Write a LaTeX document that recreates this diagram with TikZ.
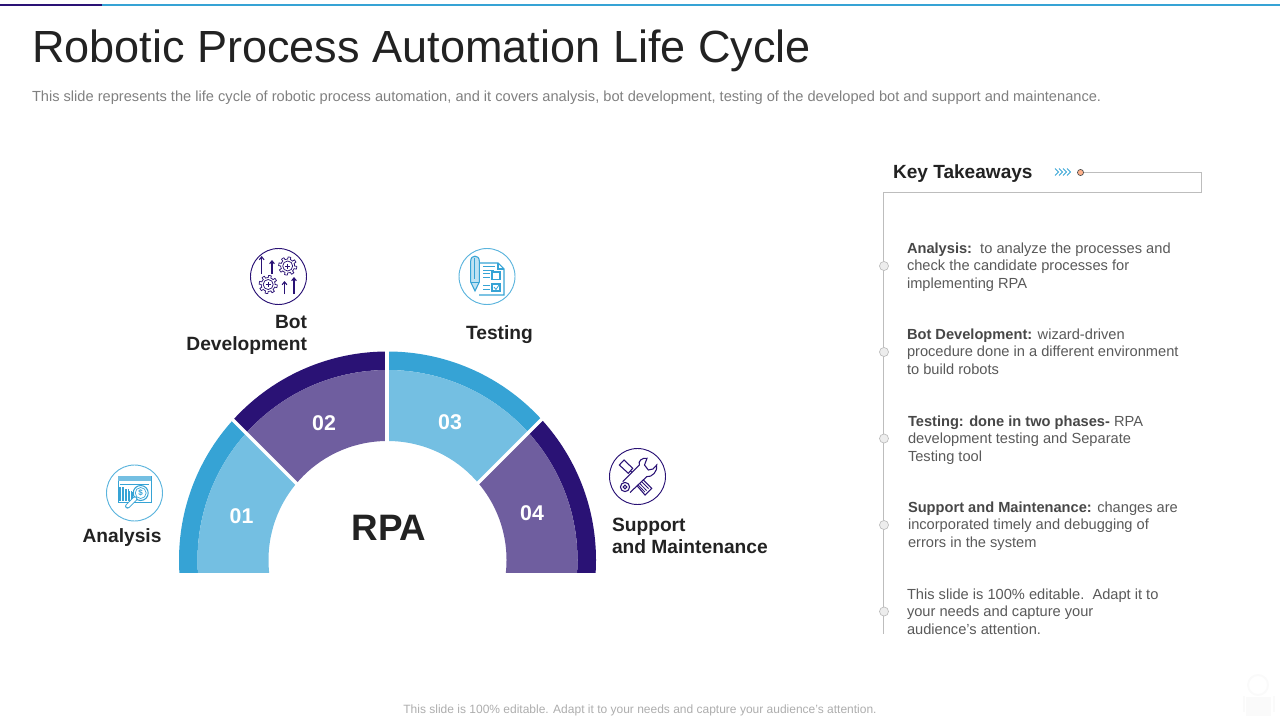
\documentclass[tikz,border=0pt]{standalone}
\usepackage{fontspec}
\setmainfont{Liberation Sans}
\usetikzlibrary{arrows.meta}
\definecolor{cDark}{HTML}{2A1275}
\definecolor{cPurple}{HTML}{6F5E9F}
\definecolor{cBlue}{HTML}{36A3D5}
\definecolor{cLight}{HTML}{74BFE2}
\definecolor{cInk}{HTML}{222222}
\definecolor{cBody}{HTML}{595959}
\definecolor{cBold}{HTML}{474747}
\definecolor{cRule}{HTML}{BDBDBD}
\tikzset{
  every node/.style={inner sep=0pt,outer sep=0pt},
  heading/.style={font=\fontsize{14.4}{16.5}\selectfont\bfseries,text=cInk,align=left},
  bodytext/.style={font=\fontsize{10.98}{13.1}\selectfont,text=cBody,align=left,anchor=west},
  secnum/.style={font=\fontsize{16}{18}\selectfont\bfseries,text=white},
  tick/.style={circle,draw=cRule,fill=black!7,line width=0.5pt,minimum size=6.8pt},
  iconring/.style={line width=0.7pt,fill=white},
  rulel/.style={draw=cRule,line width=0.75pt},
}
\newcommand{\annulus}[3]{\fill[#1,even odd rule] (387.5,560) circle[radius=#2] (387.5,560) circle[radius=#3];}
\newcommand{\sector}[3]{\begin{scope}\clip #1;\annulus{#2}{208.5}{190}\annulus{#3}{190}{119}\end{scope}}
\newcommand{\gearicon}[3]{%
  \draw[#3,line width=0.55pt,shift={(#1,#2)}] plot[domain=0:360,samples=145] (\x:{8+1.1*(sin(8*\x)>0?1:-1)}) -- cycle;
  \draw[#3,line width=0.55pt] (#1,#2) circle[radius=5];
  \draw[#3,line width=0.6pt] (#1-2.5,#2) -- (#1+2.5,#2) (#1,#2-2.5) -- (#1,#2+2.5);
}
\newcommand{\uparr}[4]{\draw[#4,line width=0.8pt,-{Straight Barb[length=2.2pt,width=3.6pt]}] (#1,#3) -- (#1,#2);}
\begin{document}
\begin{tikzpicture}[x=0.75pt,y=-0.75pt]
\useasboundingbox (0,0) rectangle (1280,720);
% top rules
\fill[cDark] (0,4) rectangle (102,6);
\fill[cBlue] (102,4) rectangle (1280,6);
% title
\node[anchor=west,font=\fontsize{33.8}{40}\selectfont,text=cInk] (title) at (32,51) {Robotic Process Automation Life Cycle};
\node[anchor=west,font=\fontsize{10.97}{14}\selectfont,text=black!50] (sub) at (32,97.5) {This slide represents the life cycle of robotic process automation, and it covers analysis, bot development, testing of the developed bot and support and maintenance.};
% gauge
\begin{scope}
\clip (0,200) rectangle (800,572.8);
\sector{(388,575) -- (88,275) -- (0,275) -- (0,575) -- cycle}{cBlue}{cLight}
\sector{(388,575) -- (88,275) -- (386,275) -- (386,575) -- cycle}{cDark}{cPurple}
\sector{(388,575) -- (688,275) -- (388,275) -- (388,575) -- cycle}{cBlue}{cLight}
\sector{(388,575) -- (688,275) -- (800,275) -- (800,575) -- cycle}{cDark}{cPurple}
\draw[white,line width=2.6pt] (386.9,340) -- (386.9,450);
\draw[white,line width=2.6pt] (230,417) -- (298,485);
\draw[white,line width=2.6pt] (544,417) -- (476,485);
\end{scope}
\node[secnum] (n1) at (241.5,516) {01};
\node[secnum] (n2) at (324,423) {02};
\node[secnum] (n3) at (450,422) {03};
\node[secnum] (n4) at (532,513) {04};
\node[font=\fontsize{27.6}{30}\selectfont\bfseries,text=cInk] (rpa) at (389,528) {RPA};
% labels
\node[heading,anchor=east,align=right] (lab2) at (307,335) {Bot\\Development};
\node[heading] (lab3) at (499.5,335) {Testing};
\node[heading,anchor=west] (lab4) at (612,536) {Support\\and Maintenance};
\node[heading] (lab1) at (122,537.5) {Analysis};
% icon: analysis
\draw[cLight!60!cBlue,iconring] (134.5,493) circle[radius=28];
\begin{scope}[cBlue,line width=0.6pt]
\draw (118,476) rectangle (151,502);
\fill[cLight] (118,476) rectangle (151,481);
\draw (120,484) -- (149,484);
\foreach \bx/\by in {119/487,120.5/487,122/487,123.5/487,125/489,126.5/489,128/489,129.5/491,131/491,132.5/492,134/495,135.5/497}{\draw[line width=0.7pt] (\bx,\by) -- (\bx,501);}
\draw[fill=white,line width=0.8pt] (140.7,493) circle[radius=7.5];
\draw[line width=0.5pt] (140.7,493) circle[radius=5.5];
\draw[line width=3.6pt,line cap=round] (135,498.7) -- (127.5,506.2);
\draw[white,line width=2.2pt,line cap=round] (135,498.7) -- (127.5,506.2);
\node[font=\fontsize{6}{6}\selectfont\bfseries,text=cBlue] (dollar) at (140.7,493) {\$};
\end{scope}
% icon: bot development
\draw[cDark,iconring] (278.5,276.5) circle[radius=28];
\uparr{261.7}{256}{274}{cDark}
\uparr{272}{260}{274}{cDark}
\uparr{284.5}{281}{294}{cDark}
\uparr{294}{277}{294}{cDark}
\gearicon{287.7}{266}{cDark}
\gearicon{268.2}{284.5}{cDark}
% icon: testing
\draw[cLight!60!cBlue,iconring] (487,276.5) circle[radius=28];
\begin{scope}[cBlue,line width=0.8pt]
\draw (479,263) -- (498,263) -- (504,269) -- (504,295) -- (479,295);
\draw (498,263) -- (498,269) -- (504,269);
\draw[fill=cLight!45,line width=0.8pt] (470.7,261) .. controls (470.7,254.5) and (479.3,254.5) .. (479.3,261) -- (479.3,282) -- (475,291) -- (470.7,282) -- cycle;
\draw[line width=0.6pt] (470.7,282) -- (479.3,282) (474,258) -- (474,279);
\draw[line width=0.7pt] (483,266) -- (495,266) (483,270) -- (494,270);
\draw[line width=0.7pt] (483,273.5) -- (490,273.5) (483,277) -- (490,277);
\draw (492,272) rectangle (500,279.5);
\draw[line width=0.7pt] (483,285) -- (490,285) (483,289) -- (490,289);
\draw (492,284) rectangle (500,291);
\draw[line width=0.6pt] (494,287) -- (496,289.5) -- (499,285);
\end{scope}
% icon: support
\draw[cDark,iconring] (637.5,476.5) circle[radius=28];
\begin{scope}[cDark,line width=0.8pt]
\draw (619.3,465) -- (624,460) -- (632.7,468.3) -- (628.3,473.3) -- cycle;
\draw (630.5,470.8) -- (639,479.5);
\draw[fill=white] (640,476.7) -- (651.7,488.3) -- (645,495) -- (635,483.3) -- cycle;
\draw[line width=0.6pt] (640,480) -- (648.5,488.5) (638.3,482) -- (646.5,490.5) (636.8,483.5) -- (644.8,492);
\draw[fill=white] (622.7,481.7) -- (639.3,465) .. controls (638,461) and (642,457.5) .. (647,458.3) -- (644.5,465) -- (648.3,470) -- (653,469) -- (656.7,465) .. controls (658,471) and (652,477.5) .. (646.7,476.7) -- (630,492.5);
\draw[fill=white] (625,487) circle[radius=4.6];
\draw (625,487) circle[radius=1.9];
\end{scope}
% key takeaways panel
\node[anchor=west,font=\fontsize{14.3}{16}\selectfont\bfseries,text=cInk] (kt) at (893,174) {Key Takeaways};
\foreach \cx in {1055,1059,1063,1067}{\draw[cBlue,line width=0.6pt] (\cx,168.5) -- (\cx+3.5,172) -- (\cx,175.5);}
\node[circle,draw=black!70,fill=red!35!orange!45,line width=0.5pt,minimum size=4.6pt] (kdot) at (1080.5,172.5) {};
\coordinate (c1) at (1201.5,172.5);
\coordinate (c2) at (1201.5,192.5);
\coordinate (c3) at (883.7,192.5);
\coordinate (c4) at (883.7,634);
\draw[rulel] (kdot) -- (c1) -- (c2) -- (c3) -- (c4);
\node[tick] (t1) at (884,266) {};
\node[tick] (t2) at (884,352) {};
\node[tick] (t3) at (884,438.5) {};
\node[tick] (t4) at (884,525) {};
\node[tick] (t5) at (884,611.5) {};
\node[bodytext] (p1) at (907,267.5) {\strut{\bfseries\color{cBold}Analysis:}\ \ to analyze the processes and\\check the candidate processes for\\implementing RPA\strut};
\node[bodytext] (p2) at (907,353.5) {\strut{\bfseries\color{cBold}Bot Development:} wizard-driven\\procedure done in a different environment\\to build robots\strut};
\node[bodytext] (p3) at (908,440.5) {\strut{\bfseries\color{cBold}Testing: done in two phases-} RPA\\development testing and Separate\\Testing tool\strut};
\node[bodytext] (p4) at (908,526.5) {\strut{\bfseries\color{cBold}Support and Maintenance:} changes are\\incorporated timely and debugging of\\errors in the system\strut};
\node[bodytext] (p5) at (907,613.5) {\strut This slide is 100\% editable.\ \ Adapt it to\\your needs and capture your\\audience's attention.\strut};
% footer
\node[font=\fontsize{9}{11}\selectfont,text=black!32] (foot) at (640,710) {This slide is 100\% editable. Adapt it to your needs and capture your audience's attention.};
% faint robot mark
\begin{scope}[black!2]
\draw[line width=1.5pt] (1258,685) circle[radius=10];
\fill (1246,697) rectangle (1271,716);
\fill (1243,696) rectangle (1244.5,712);
\fill (1273,696) rectangle (1274.5,712);
\end{scope}
\end{tikzpicture}
\end{document}
